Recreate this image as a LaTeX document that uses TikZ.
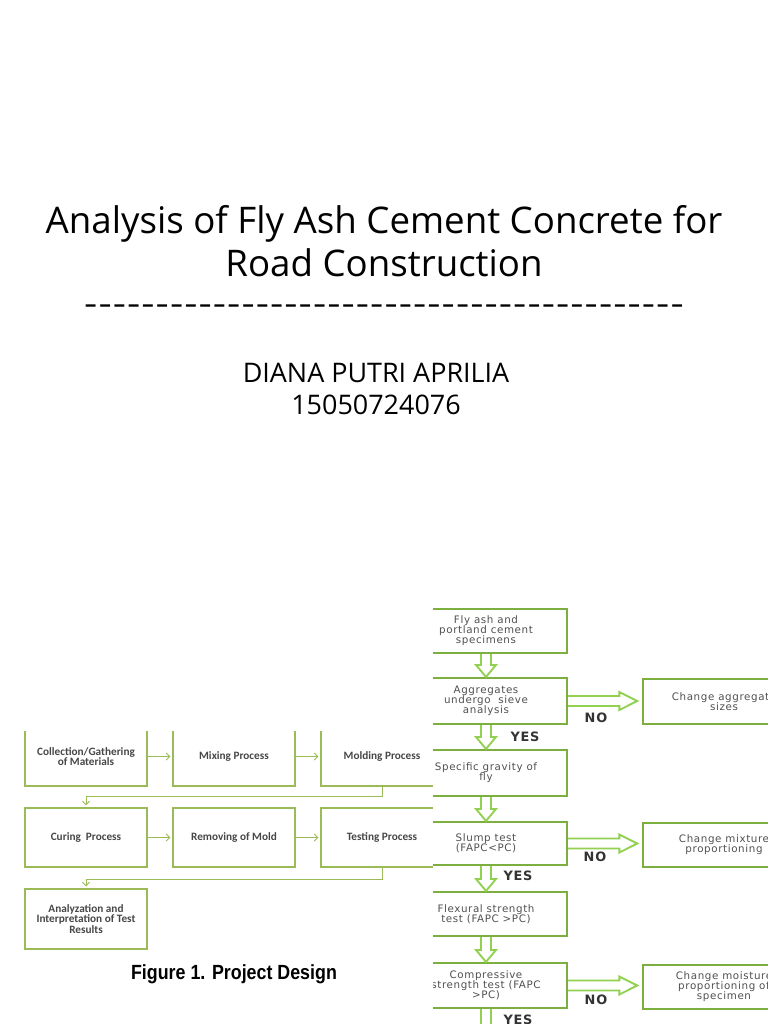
\documentclass[tikz,border=0pt]{standalone}
\usepackage{fontspec}
\usepackage{graphicx}
\usetikzlibrary{arrows.meta,positioning,calc}
\newfontfamily\titlefont{Open Sans}
\newfontfamily\calfont{Carlito}
\newfontfamily\verfont[LetterSpace=6]{DejaVu Sans}
\newfontfamily\capfont{Liberation Sans}
\definecolor{g1}{RGB}{155,187,89}
\definecolor{g2}{RGB}{124,174,64}
\definecolor{g3}{RGB}{146,208,80}
\definecolor{tx}{RGB}{80,80,80}

\tikzset{
  pbox/.style={draw=g1,line width=1.5pt,minimum width=3.66cm,align=center,
    font=\calfont\bfseries\fontsize{9.6}{9}\selectfont,text=black!72},
  fbox/.style={draw=g2,line width=1.8pt,minimum width=4.86cm,align=center,
    font=\verfont\fontsize{8.8}{8.6}\selectfont,text=tx},
  flow/.style={g1,line width=0.8pt,shorten >=1.5pt,-{Straight Barb[length=3pt,width=6pt]}},
  hollow/.style={draw=g3,line width=1.6pt,fill=white,line join=miter},
  fatdown/.style={to path={let \p1=(\tikztostart),\p2=(\tikztotarget) in
    (\x1-4.25pt,\y1) -- (\x1-4.25pt,\y2+10.2pt) -- (\x1-8.5pt,\y2+10.2pt) -- (\x1,\y2)
    -- (\x1+8.5pt,\y2+10.2pt) -- (\x1+4.25pt,\y2+10.2pt) -- (\x1+4.25pt,\y1)}},
  fatright/.style={to path={let \p1=(\tikztostart),\p2=(\tikztotarget) in
    (\x1,\y1+4.25pt) -- (\x2-15.3pt,\y1+4.25pt) -- (\x2-15.3pt,\y1+7.7pt) -- (\x2,\y1)
    -- (\x2-15.3pt,\y1-7.7pt) -- (\x2-15.3pt,\y1-4.25pt) -- (\x1,\y1-4.25pt)}},
  yn/.style={font=\verfont\bfseries\fontsize{11}{11}\selectfont,text=black!80}
}

\begin{document}
\begin{tikzpicture}[x=0.03cm,y=-0.03cm]
  \useasboundingbox[fill=white] (0,0) rectangle (768,1024);

  % title block
  \node[font=\titlefont\fontsize{31.3}{37}\selectfont,align=center] (title) at (384,241)
    {Analysis of Fly Ash Cement Concrete for\\Road Construction};
  \node[font=\titlefont\fontsize{27}{30}\selectfont] (rule) at (384,310)
    {\foreach \i in {1,...,42}{\makebox[0.429cm]{\scalebox{1.3}[1]{-}}}};
  \node[font=\titlefont\fontsize{23}{28}\selectfont,align=center] (author) at (376,389)
    {DIANA PUTRI APRILIA\\15050724076};

  % project design (left figure)
  \begin{scope}
    \clip (0,731) rectangle (433,1024);
    \foreach \nm/\x/\y/\h/\txt in {
      coll/86/756.5/1.77/{Collection/Gathering\\of Materials},
      mix/234/756.5/1.77/{Mixing Process},
      mold/382/756.5/1.77/{Molding Process},
      cure/86/837.5/1.77/{Curing\ \ Process},
      remov/234/837.5/1.77/{Removing of Mold},
      test/382/837.5/1.77/{Testing Process},
      anal/86/919/1.8/{Analyzation and\\Interpretation of Test\\Results}}{
      \node[pbox,minimum height=\h cm] (\nm) at (\x,\y) {\txt};
    }
    \draw[flow] (coll) -- (mix);
    \draw[flow] (mix) -- (mold);
    \draw[flow] (cure) -- (remov);
    \draw[flow] (remov) -- (test);
    \draw[flow] (mold.south) -- ++(0,10) -| (cure.north);
    \draw[flow] (test.south) -- ++(0,12) -| (anal.north);
    \node[font=\capfont\bfseries\fontsize{17.5}{20}\selectfont] (fig) at (234,974)
      {\scalebox{0.87}[1]{Figure 1. Project Design}};
  \end{scope}

  % test flowchart (right figure)
  \begin{scope}
    \clip (433,600) rectangle (768,1024);
    \fill[white] (433,600) rectangle (768,1024);
    \foreach \nm/\x/\y/\h/\txt in {
      spec/486/631/1.32/{Fly ash and\\portland cement\\specimens},
      sieve/486/701/1.38/{Aggregates\\undergo\ \ sieve\\analysis},
      grav/486/773/1.38/{Specific gravity of\\fly},
      slump/486/843.5/1.29/{Slump test\\(FAPC<PC)},
      flex/486/914/1.32/{Flexural strength\\test (FAPC >PC)},
      comp/486/985.5/1.35/{Compressive\\strength test (FAPC\\>PC)},
      chagg/724/701.5/1.35/{Change aggregate\\sizes},
      chmix/724/845/1.32/{Change mixture\\proportioning},
      chmoist/724/987/1.32/{Change moisture\\proportioning of\\specimen}}{
      \node[fbox,minimum height=\h cm] (\nm) at (\x,\y) {\txt};
    }
    \coordinate (next) at (486,1045);
    \draw[hollow] (spec.south) to[fatdown] (sieve.north);
    \draw[hollow] (sieve.south) to[fatdown] (grav.north);
    \draw[hollow] (grav.south) to[fatdown] (slump.north);
    \draw[hollow] (slump.south) to[fatdown] (flex.north);
    \draw[hollow] (flex.south) to[fatdown] (comp.north);
    \draw[hollow] (comp.south) to[fatdown] (next);
    \draw[hollow] (sieve.east) to[fatright] ([xshift=-4pt]chagg.west);
    \draw[hollow] (slump.east) to[fatright] ([xshift=-4pt]chmix.west);
    \draw[hollow] (comp.east) to[fatright] ([xshift=-4pt]chmoist.west);
    \node[yn] (no1) at (596,718) {NO};
    \node[yn] (no2) at (595,857) {NO};
    \node[yn] (no3) at (596,1000) {NO};
    \node[yn] (yes1) at (525,737) {YES};
    \node[yn] (yes2) at (518,876) {YES};
    \node[yn] (yes3) at (518,1020) {YES};
  \end{scope}
\end{tikzpicture}
\end{document}
